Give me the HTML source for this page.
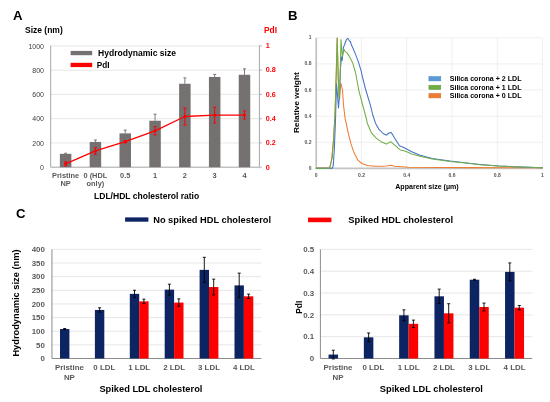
<!DOCTYPE html>
<html><head><meta charset="utf-8"><title>Figure</title>
<style>
html,body{margin:0;padding:0;background:#fff;}
body{width:550px;height:402px;overflow:hidden;}
svg{display:block;font-family:"Liberation Sans", sans-serif;will-change:transform;}
</style></head>
<body>
<svg width="550" height="402" viewBox="0 0 550 402">
<rect width="550" height="402" fill="#fff"/>
<text x="13.00" y="20.40" font-size="13.2" font-weight="bold" fill="#000" text-anchor="start">A</text>
<text x="25.00" y="32.50" font-size="8.5" font-weight="bold" fill="#000" text-anchor="start" textLength="37.7" lengthAdjust="spacingAndGlyphs">Size (nm)</text>
<text x="264.00" y="33.10" font-size="8.6" font-weight="bold" fill="#ff0000" text-anchor="start" textLength="13.0" lengthAdjust="spacingAndGlyphs">PdI</text>
<line x1="50.70" y1="142.94" x2="259.40" y2="142.94" stroke="#e0e0e0" stroke-width="0.8"/>
<line x1="50.70" y1="118.68" x2="259.40" y2="118.68" stroke="#e0e0e0" stroke-width="0.8"/>
<line x1="50.70" y1="94.42" x2="259.40" y2="94.42" stroke="#e0e0e0" stroke-width="0.8"/>
<line x1="50.70" y1="70.16" x2="259.40" y2="70.16" stroke="#e0e0e0" stroke-width="0.8"/>
<line x1="50.70" y1="45.90" x2="259.40" y2="45.90" stroke="#e0e0e0" stroke-width="0.8"/>
<line x1="50.70" y1="45.60" x2="50.70" y2="167.20" stroke="#a6a6a6" stroke-width="1"/>
<line x1="259.40" y1="45.60" x2="259.40" y2="167.20" stroke="#a6a6a6" stroke-width="1"/>
<line x1="50.70" y1="167.20" x2="259.40" y2="167.20" stroke="#a6a6a6" stroke-width="1"/>
<line x1="259.40" y1="167.20" x2="262.00" y2="167.20" stroke="#a6a6a6" stroke-width="0.8"/>
<text x="44.00" y="169.90" font-size="7.0" font-weight="normal" fill="#3c3c3c" text-anchor="end">0</text>
<text x="265.70" y="169.50" font-size="7.2" font-weight="bold" fill="#ff0000" text-anchor="start">0</text>
<line x1="259.40" y1="142.94" x2="262.00" y2="142.94" stroke="#a6a6a6" stroke-width="0.8"/>
<text x="44.00" y="145.64" font-size="7.0" font-weight="normal" fill="#3c3c3c" text-anchor="end">200</text>
<text x="265.70" y="145.24" font-size="7.2" font-weight="bold" fill="#ff0000" text-anchor="start">0.2</text>
<line x1="259.40" y1="118.68" x2="262.00" y2="118.68" stroke="#a6a6a6" stroke-width="0.8"/>
<text x="44.00" y="121.38" font-size="7.0" font-weight="normal" fill="#3c3c3c" text-anchor="end">400</text>
<text x="265.70" y="120.98" font-size="7.2" font-weight="bold" fill="#ff0000" text-anchor="start">0.4</text>
<line x1="259.40" y1="94.42" x2="262.00" y2="94.42" stroke="#a6a6a6" stroke-width="0.8"/>
<text x="44.00" y="97.12" font-size="7.0" font-weight="normal" fill="#3c3c3c" text-anchor="end">600</text>
<text x="265.70" y="96.72" font-size="7.2" font-weight="bold" fill="#ff0000" text-anchor="start">0.6</text>
<line x1="259.40" y1="70.16" x2="262.00" y2="70.16" stroke="#a6a6a6" stroke-width="0.8"/>
<text x="44.00" y="72.86" font-size="7.0" font-weight="normal" fill="#3c3c3c" text-anchor="end">800</text>
<text x="265.70" y="72.46" font-size="7.2" font-weight="bold" fill="#ff0000" text-anchor="start">0.8</text>
<line x1="259.40" y1="45.90" x2="262.00" y2="45.90" stroke="#a6a6a6" stroke-width="0.8"/>
<text x="44.00" y="48.60" font-size="7.0" font-weight="normal" fill="#3c3c3c" text-anchor="end">1000</text>
<text x="265.70" y="48.20" font-size="7.2" font-weight="bold" fill="#ff0000" text-anchor="start">1</text>
<rect x="59.86" y="153.86" width="11.50" height="13.34" fill="#767171"/>
<rect x="89.67" y="141.97" width="11.50" height="25.23" fill="#767171"/>
<rect x="119.49" y="133.36" width="11.50" height="33.84" fill="#767171"/>
<rect x="149.30" y="120.74" width="11.50" height="46.46" fill="#767171"/>
<rect x="179.11" y="83.75" width="11.50" height="83.45" fill="#767171"/>
<rect x="208.93" y="76.95" width="11.50" height="90.25" fill="#767171"/>
<rect x="238.74" y="74.77" width="11.50" height="92.43" fill="#767171"/>
<line x1="65.61" y1="153.25" x2="65.61" y2="153.86" stroke="#6d6969" stroke-width="0.9"/>
<line x1="64.11" y1="153.25" x2="67.11" y2="153.25" stroke="#6d6969" stroke-width="0.9"/>
<line x1="95.42" y1="140.03" x2="95.42" y2="141.97" stroke="#6d6969" stroke-width="0.9"/>
<line x1="93.92" y1="140.03" x2="96.92" y2="140.03" stroke="#6d6969" stroke-width="0.9"/>
<line x1="125.24" y1="130.08" x2="125.24" y2="133.36" stroke="#6d6969" stroke-width="0.9"/>
<line x1="123.74" y1="130.08" x2="126.74" y2="130.08" stroke="#6d6969" stroke-width="0.9"/>
<line x1="155.05" y1="114.19" x2="155.05" y2="120.74" stroke="#6d6969" stroke-width="0.9"/>
<line x1="153.55" y1="114.19" x2="156.55" y2="114.19" stroke="#6d6969" stroke-width="0.9"/>
<line x1="184.86" y1="77.92" x2="184.86" y2="83.75" stroke="#6d6969" stroke-width="0.9"/>
<line x1="183.36" y1="77.92" x2="186.36" y2="77.92" stroke="#6d6969" stroke-width="0.9"/>
<line x1="214.68" y1="74.41" x2="214.68" y2="76.95" stroke="#6d6969" stroke-width="0.9"/>
<line x1="213.18" y1="74.41" x2="216.18" y2="74.41" stroke="#6d6969" stroke-width="0.9"/>
<line x1="244.49" y1="68.83" x2="244.49" y2="74.77" stroke="#6d6969" stroke-width="0.9"/>
<line x1="242.99" y1="68.83" x2="245.99" y2="68.83" stroke="#6d6969" stroke-width="0.9"/>
<polyline points="65.61,163.80 95.42,150.95 125.24,141.73 155.05,130.81 184.86,116.50 214.68,115.04 244.49,115.04" fill="none" stroke="#ff0000" stroke-width="1.3" stroke-linejoin="round" stroke-linecap="round"/>
<line x1="65.61" y1="161.74" x2="65.61" y2="165.87" stroke="#ff0000" stroke-width="1.0"/>
<line x1="64.11" y1="161.74" x2="67.11" y2="161.74" stroke="#ff0000" stroke-width="1.0"/>
<line x1="64.11" y1="165.87" x2="67.11" y2="165.87" stroke="#ff0000" stroke-width="1.0"/>
<circle cx="65.61" cy="163.80" r="1.5" fill="#ff0000"/>
<line x1="95.42" y1="147.55" x2="95.42" y2="154.34" stroke="#ff0000" stroke-width="1.0"/>
<line x1="93.92" y1="147.55" x2="96.92" y2="147.55" stroke="#ff0000" stroke-width="1.0"/>
<line x1="93.92" y1="154.34" x2="96.92" y2="154.34" stroke="#ff0000" stroke-width="1.0"/>
<circle cx="95.42" cy="150.95" r="1.5" fill="#ff0000"/>
<line x1="125.24" y1="140.51" x2="125.24" y2="142.94" stroke="#ff0000" stroke-width="1.0"/>
<line x1="123.74" y1="140.51" x2="126.74" y2="140.51" stroke="#ff0000" stroke-width="1.0"/>
<line x1="123.74" y1="142.94" x2="126.74" y2="142.94" stroke="#ff0000" stroke-width="1.0"/>
<circle cx="125.24" cy="141.73" r="1.5" fill="#ff0000"/>
<line x1="155.05" y1="126.69" x2="155.05" y2="134.93" stroke="#ff0000" stroke-width="1.0"/>
<line x1="153.55" y1="126.69" x2="156.55" y2="126.69" stroke="#ff0000" stroke-width="1.0"/>
<line x1="153.55" y1="134.93" x2="156.55" y2="134.93" stroke="#ff0000" stroke-width="1.0"/>
<circle cx="155.05" cy="130.81" r="1.5" fill="#ff0000"/>
<line x1="184.86" y1="108.01" x2="184.86" y2="124.99" stroke="#ff0000" stroke-width="1.0"/>
<line x1="183.36" y1="108.01" x2="186.36" y2="108.01" stroke="#ff0000" stroke-width="1.0"/>
<line x1="183.36" y1="124.99" x2="186.36" y2="124.99" stroke="#ff0000" stroke-width="1.0"/>
<circle cx="184.86" cy="116.50" r="1.5" fill="#ff0000"/>
<line x1="214.68" y1="107.16" x2="214.68" y2="122.93" stroke="#ff0000" stroke-width="1.0"/>
<line x1="213.18" y1="107.16" x2="216.18" y2="107.16" stroke="#ff0000" stroke-width="1.0"/>
<line x1="213.18" y1="122.93" x2="216.18" y2="122.93" stroke="#ff0000" stroke-width="1.0"/>
<circle cx="214.68" cy="115.04" r="1.5" fill="#ff0000"/>
<line x1="244.49" y1="111.04" x2="244.49" y2="119.04" stroke="#ff0000" stroke-width="1.0"/>
<line x1="242.99" y1="111.04" x2="245.99" y2="111.04" stroke="#ff0000" stroke-width="1.0"/>
<line x1="242.99" y1="119.04" x2="245.99" y2="119.04" stroke="#ff0000" stroke-width="1.0"/>
<circle cx="244.49" cy="115.04" r="1.5" fill="#ff0000"/>
<rect x="70.60" y="50.90" width="21.60" height="4.30" fill="#767171"/>
<rect x="70.60" y="62.80" width="21.60" height="4.30" fill="#ff0000"/>
<text x="98.00" y="55.60" font-size="8.2" font-weight="bold" fill="#000" text-anchor="start" textLength="78.0" lengthAdjust="spacingAndGlyphs">Hydrodynamic size</text>
<text x="96.80" y="67.50" font-size="8.2" font-weight="bold" fill="#000" text-anchor="start">PdI</text>
<text x="65.61" y="178.40" font-size="7.4" font-weight="bold" fill="#595959" text-anchor="middle">Pristine</text>
<text x="65.61" y="186.40" font-size="7.4" font-weight="bold" fill="#595959" text-anchor="middle">NP</text>
<text x="95.42" y="178.40" font-size="7.4" font-weight="bold" fill="#595959" text-anchor="middle">0 (HDL</text>
<text x="95.42" y="186.40" font-size="7.4" font-weight="bold" fill="#595959" text-anchor="middle">only)</text>
<text x="125.24" y="178.40" font-size="7.4" font-weight="bold" fill="#595959" text-anchor="middle">0.5</text>
<text x="155.05" y="178.40" font-size="7.4" font-weight="bold" fill="#595959" text-anchor="middle">1</text>
<text x="184.86" y="178.40" font-size="7.4" font-weight="bold" fill="#595959" text-anchor="middle">2</text>
<text x="214.68" y="178.40" font-size="7.4" font-weight="bold" fill="#595959" text-anchor="middle">3</text>
<text x="244.49" y="178.40" font-size="7.4" font-weight="bold" fill="#595959" text-anchor="middle">4</text>
<text x="94.00" y="198.70" font-size="8.5" font-weight="bold" fill="#000" text-anchor="start" textLength="105.2" lengthAdjust="spacingAndGlyphs">LDL/HDL cholesterol ratio</text>
<text x="287.90" y="20.40" font-size="13.2" font-weight="bold" fill="#000" text-anchor="start">B</text>
<line x1="361.46" y1="37.80" x2="361.46" y2="168.40" stroke="#ebebeb" stroke-width="0.8"/>
<line x1="316.20" y1="142.28" x2="542.50" y2="142.28" stroke="#ebebeb" stroke-width="0.8"/>
<line x1="406.72" y1="37.80" x2="406.72" y2="168.40" stroke="#ebebeb" stroke-width="0.8"/>
<line x1="316.20" y1="116.16" x2="542.50" y2="116.16" stroke="#ebebeb" stroke-width="0.8"/>
<line x1="451.98" y1="37.80" x2="451.98" y2="168.40" stroke="#ebebeb" stroke-width="0.8"/>
<line x1="316.20" y1="90.04" x2="542.50" y2="90.04" stroke="#ebebeb" stroke-width="0.8"/>
<line x1="497.24" y1="37.80" x2="497.24" y2="168.40" stroke="#ebebeb" stroke-width="0.8"/>
<line x1="316.20" y1="63.92" x2="542.50" y2="63.92" stroke="#ebebeb" stroke-width="0.8"/>
<line x1="542.50" y1="37.80" x2="542.50" y2="168.40" stroke="#ebebeb" stroke-width="0.8"/>
<line x1="316.20" y1="37.80" x2="542.50" y2="37.80" stroke="#ebebeb" stroke-width="0.8"/>
<text x="311.50" y="169.90" font-size="5.0" font-weight="bold" fill="#555555" text-anchor="end">0</text>
<text x="316.20" y="176.60" font-size="5.0" font-weight="bold" fill="#555555" text-anchor="middle">0</text>
<text x="311.50" y="143.78" font-size="5.0" font-weight="bold" fill="#555555" text-anchor="end">0.2</text>
<text x="361.46" y="176.60" font-size="5.0" font-weight="bold" fill="#555555" text-anchor="middle">0.2</text>
<text x="311.50" y="117.66" font-size="5.0" font-weight="bold" fill="#555555" text-anchor="end">0.4</text>
<text x="406.72" y="176.60" font-size="5.0" font-weight="bold" fill="#555555" text-anchor="middle">0.4</text>
<text x="311.50" y="91.54" font-size="5.0" font-weight="bold" fill="#555555" text-anchor="end">0.6</text>
<text x="451.98" y="176.60" font-size="5.0" font-weight="bold" fill="#555555" text-anchor="middle">0.6</text>
<text x="311.50" y="65.42" font-size="5.0" font-weight="bold" fill="#555555" text-anchor="end">0.8</text>
<text x="497.24" y="176.60" font-size="5.0" font-weight="bold" fill="#555555" text-anchor="middle">0.8</text>
<text x="311.50" y="39.30" font-size="5.0" font-weight="bold" fill="#555555" text-anchor="end">1</text>
<text x="542.50" y="176.60" font-size="5.0" font-weight="bold" fill="#555555" text-anchor="middle">1</text>
<line x1="316.20" y1="37.80" x2="316.20" y2="168.40" stroke="#c4c4c4" stroke-width="1.8"/>
<line x1="316.20" y1="168.40" x2="542.50" y2="168.40" stroke="#c4c4c4" stroke-width="1.6"/>
<polyline points="316.20,168.00 329.50,168.00 330.50,165.00 331.50,160.00 333.50,140.00 335.00,115.00 336.20,75.00 337.15,38.50 338.30,80.00 339.00,96.00 339.60,99.00 340.30,88.00 341.00,83.50 342.50,90.00 343.50,105.00 345.10,118.40 346.20,123.20 348.20,132.80 350.90,143.70 353.70,151.90 357.80,160.10 361.90,163.50 367.30,165.60 375.50,166.30 382.00,166.30 386.50,165.90 390.60,165.30 394.70,166.30 408.40,167.20 470.00,167.60 542.50,167.80" fill="none" stroke="#ed7d31" stroke-width="1.05" stroke-linejoin="round" stroke-linecap="round"/>
<polyline points="316.20,168.20 332.50,168.20 333.30,165.00 334.30,150.00 335.50,120.00 336.50,83.50 337.50,95.00 338.50,108.00 339.50,95.00 340.50,68.00 341.50,56.90 342.20,60.50 343.00,52.00 343.50,47.00 344.50,45.00 345.50,42.00 346.40,39.50 347.40,38.50 348.40,39.00 349.40,41.00 350.40,41.50 351.40,45.00 352.90,48.00 354.90,52.90 356.90,57.90 358.40,61.90 359.90,66.80 361.40,71.80 362.30,76.40 365.50,89.00 370.50,105.60 372.80,115.00 375.50,123.20 379.00,129.40 383.10,133.50 386.50,135.20 389.00,133.00 391.30,132.50 394.70,138.20 399.50,145.80 404.30,147.80 411.80,151.80 420.00,155.20 432.30,158.60 450.00,161.10 466.40,163.00 480.00,164.40 499.00,166.10 542.50,167.80" fill="none" stroke="#4472c4" stroke-width="1.05" stroke-linejoin="round" stroke-linecap="round"/>
<polyline points="316.20,168.20 329.50,168.20 330.50,165.00 331.50,160.00 332.30,158.00 333.50,140.00 335.00,115.00 336.20,75.00 337.20,37.80 338.30,80.00 339.20,98.00 340.00,80.00 341.00,39.60 342.30,56.00 344.00,49.40 345.00,51.40 347.00,52.90 349.00,55.90 351.00,59.40 353.00,63.80 354.40,68.80 355.40,72.00 359.10,91.60 366.70,120.00 367.30,123.20 371.40,132.80 376.20,138.20 381.00,141.70 386.50,144.10 390.60,141.70 394.70,145.10 400.20,149.90 405.00,151.10 411.80,153.90 420.00,156.20 432.30,159.00 450.00,161.40 466.40,163.10 480.00,164.80 499.00,166.10 542.50,167.80" fill="none" stroke="#70ad47" stroke-width="1.05" stroke-linejoin="round" stroke-linecap="round"/>
<text transform="translate(299.0,102.6) rotate(-90)" x="0" y="0" font-size="7.2" font-weight="bold" fill="#000" text-anchor="middle" textLength="60.9" lengthAdjust="spacingAndGlyphs">Relative weight</text>
<text x="395.20" y="188.80" font-size="7.1" font-weight="bold" fill="#000" text-anchor="start" textLength="63.5" lengthAdjust="spacingAndGlyphs">Apparent size (µm)</text>
<rect x="426.50" y="74.50" width="95.50" height="25.00" fill="#ffffff"/>
<rect x="428.9" y="76.5" width="11.9" height="4.4" fill="#5b9bd5" stroke="#4a89c8" stroke-width="0.5"/>
<text x="449.70" y="81.10" font-size="7.3" font-weight="bold" fill="#000" text-anchor="start" textLength="71.8" lengthAdjust="spacingAndGlyphs">Silica corona + 2 LDL</text>
<rect x="428.9" y="85.2" width="11.9" height="4.4" fill="#70ad47" stroke="#5f9a3a" stroke-width="0.5"/>
<text x="449.70" y="89.50" font-size="7.3" font-weight="bold" fill="#000" text-anchor="start" textLength="71.8" lengthAdjust="spacingAndGlyphs">Silica corona + 1 LDL</text>
<rect x="428.9" y="93.5" width="11.9" height="4.4" fill="#ed7d31" stroke="#d96d25" stroke-width="0.5"/>
<text x="449.70" y="97.80" font-size="7.3" font-weight="bold" fill="#000" text-anchor="start" textLength="71.8" lengthAdjust="spacingAndGlyphs">Silica corona + 0 LDL</text>
<text x="16.00" y="217.60" font-size="13.2" font-weight="bold" fill="#000" text-anchor="start">C</text>
<rect x="125.10" y="217.40" width="23.30" height="4.30" fill="#0d2463"/>
<text x="153.20" y="222.60" font-size="9.3" font-weight="bold" fill="#000" text-anchor="start" textLength="117.8" lengthAdjust="spacingAndGlyphs">No spiked HDL cholesterol</text>
<rect x="308.00" y="217.60" width="23.40" height="4.60" fill="#ff0000"/>
<text x="348.30" y="223.20" font-size="9.35" font-weight="bold" fill="#000" text-anchor="start" textLength="104.7" lengthAdjust="spacingAndGlyphs">Spiked HDL cholesterol</text>
<line x1="51.95" y1="344.86" x2="261.35" y2="344.86" stroke="#e0e0e0" stroke-width="0.8"/>
<line x1="51.95" y1="331.23" x2="261.35" y2="331.23" stroke="#e0e0e0" stroke-width="0.8"/>
<line x1="51.95" y1="317.59" x2="261.35" y2="317.59" stroke="#e0e0e0" stroke-width="0.8"/>
<line x1="51.95" y1="303.95" x2="261.35" y2="303.95" stroke="#e0e0e0" stroke-width="0.8"/>
<line x1="51.95" y1="290.31" x2="261.35" y2="290.31" stroke="#e0e0e0" stroke-width="0.8"/>
<line x1="51.95" y1="276.68" x2="261.35" y2="276.68" stroke="#e0e0e0" stroke-width="0.8"/>
<line x1="51.95" y1="263.04" x2="261.35" y2="263.04" stroke="#e0e0e0" stroke-width="0.8"/>
<line x1="51.95" y1="249.40" x2="261.35" y2="249.40" stroke="#e0e0e0" stroke-width="0.8"/>
<line x1="51.95" y1="249.40" x2="51.95" y2="358.50" stroke="#8c8c8c" stroke-width="1"/>
<line x1="51.95" y1="358.50" x2="261.35" y2="358.50" stroke="#8c8c8c" stroke-width="1"/>
<text x="44.80" y="361.30" font-size="7.9" font-weight="bold" fill="#595959" text-anchor="end">0</text>
<text x="44.80" y="347.66" font-size="7.9" font-weight="bold" fill="#595959" text-anchor="end">50</text>
<text x="44.80" y="334.03" font-size="7.9" font-weight="bold" fill="#595959" text-anchor="end">100</text>
<text x="44.80" y="320.39" font-size="7.9" font-weight="bold" fill="#595959" text-anchor="end">150</text>
<text x="44.80" y="306.75" font-size="7.9" font-weight="bold" fill="#595959" text-anchor="end">200</text>
<text x="44.80" y="293.11" font-size="7.9" font-weight="bold" fill="#595959" text-anchor="end">250</text>
<text x="44.80" y="279.48" font-size="7.9" font-weight="bold" fill="#595959" text-anchor="end">300</text>
<text x="44.80" y="265.84" font-size="7.9" font-weight="bold" fill="#595959" text-anchor="end">350</text>
<text x="44.80" y="252.20" font-size="7.9" font-weight="bold" fill="#595959" text-anchor="end">400</text>
<rect x="60.00" y="329.04" width="9.40" height="29.46" fill="#0d2463"/>
<rect x="94.90" y="309.95" width="9.40" height="48.55" fill="#0d2463"/>
<rect x="129.80" y="293.86" width="9.40" height="64.64" fill="#0d2463"/>
<rect x="164.70" y="289.63" width="9.40" height="68.87" fill="#0d2463"/>
<rect x="199.60" y="269.86" width="9.40" height="88.64" fill="#0d2463"/>
<rect x="234.50" y="285.40" width="9.40" height="73.10" fill="#0d2463"/>
<rect x="139.20" y="301.36" width="9.40" height="57.14" fill="#ff0000"/>
<rect x="174.10" y="302.59" width="9.40" height="55.91" fill="#ff0000"/>
<rect x="209.00" y="287.04" width="9.40" height="71.46" fill="#ff0000"/>
<rect x="243.90" y="296.31" width="9.40" height="62.19" fill="#ff0000"/>
<line x1="64.70" y1="328.50" x2="64.70" y2="329.59" stroke="#000" stroke-width="0.9"/>
<line x1="63.20" y1="328.50" x2="66.20" y2="328.50" stroke="#000" stroke-width="0.9"/>
<line x1="63.20" y1="329.59" x2="66.20" y2="329.59" stroke="#000" stroke-width="0.9"/>
<line x1="99.60" y1="307.77" x2="99.60" y2="312.13" stroke="#000" stroke-width="0.9"/>
<line x1="98.10" y1="307.77" x2="101.10" y2="307.77" stroke="#000" stroke-width="0.9"/>
<line x1="98.10" y1="312.13" x2="101.10" y2="312.13" stroke="#000" stroke-width="0.9"/>
<line x1="134.50" y1="290.31" x2="134.50" y2="297.40" stroke="#000" stroke-width="0.9"/>
<line x1="133.00" y1="290.31" x2="136.00" y2="290.31" stroke="#000" stroke-width="0.9"/>
<line x1="133.00" y1="297.40" x2="136.00" y2="297.40" stroke="#000" stroke-width="0.9"/>
<line x1="169.40" y1="284.18" x2="169.40" y2="295.09" stroke="#000" stroke-width="0.9"/>
<line x1="167.90" y1="284.18" x2="170.90" y2="284.18" stroke="#000" stroke-width="0.9"/>
<line x1="167.90" y1="295.09" x2="170.90" y2="295.09" stroke="#000" stroke-width="0.9"/>
<line x1="204.30" y1="257.31" x2="204.30" y2="282.40" stroke="#000" stroke-width="0.9"/>
<line x1="202.80" y1="257.31" x2="205.80" y2="257.31" stroke="#000" stroke-width="0.9"/>
<line x1="202.80" y1="282.40" x2="205.80" y2="282.40" stroke="#000" stroke-width="0.9"/>
<line x1="239.20" y1="273.13" x2="239.20" y2="297.68" stroke="#000" stroke-width="0.9"/>
<line x1="237.70" y1="273.13" x2="240.70" y2="273.13" stroke="#000" stroke-width="0.9"/>
<line x1="237.70" y1="297.68" x2="240.70" y2="297.68" stroke="#000" stroke-width="0.9"/>
<line x1="143.90" y1="299.18" x2="143.90" y2="303.54" stroke="#000" stroke-width="0.9"/>
<line x1="142.40" y1="299.18" x2="145.40" y2="299.18" stroke="#000" stroke-width="0.9"/>
<line x1="142.40" y1="303.54" x2="145.40" y2="303.54" stroke="#000" stroke-width="0.9"/>
<line x1="178.80" y1="298.90" x2="178.80" y2="306.27" stroke="#000" stroke-width="0.9"/>
<line x1="177.30" y1="298.90" x2="180.30" y2="298.90" stroke="#000" stroke-width="0.9"/>
<line x1="177.30" y1="306.27" x2="180.30" y2="306.27" stroke="#000" stroke-width="0.9"/>
<line x1="213.70" y1="279.13" x2="213.70" y2="294.95" stroke="#000" stroke-width="0.9"/>
<line x1="212.20" y1="279.13" x2="215.20" y2="279.13" stroke="#000" stroke-width="0.9"/>
<line x1="212.20" y1="294.95" x2="215.20" y2="294.95" stroke="#000" stroke-width="0.9"/>
<line x1="248.60" y1="294.13" x2="248.60" y2="298.50" stroke="#000" stroke-width="0.9"/>
<line x1="247.10" y1="294.13" x2="250.10" y2="294.13" stroke="#000" stroke-width="0.9"/>
<line x1="247.10" y1="298.50" x2="250.10" y2="298.50" stroke="#000" stroke-width="0.9"/>
<text x="69.40" y="370.30" font-size="7.9" font-weight="bold" fill="#595959" text-anchor="middle">Pristine</text>
<text x="69.40" y="379.50" font-size="7.9" font-weight="bold" fill="#595959" text-anchor="middle">NP</text>
<text x="104.30" y="370.30" font-size="7.9" font-weight="bold" fill="#595959" text-anchor="middle">0 LDL</text>
<text x="139.20" y="370.30" font-size="7.9" font-weight="bold" fill="#595959" text-anchor="middle">1 LDL</text>
<text x="174.10" y="370.30" font-size="7.9" font-weight="bold" fill="#595959" text-anchor="middle">2 LDL</text>
<text x="209.00" y="370.30" font-size="7.9" font-weight="bold" fill="#595959" text-anchor="middle">3 LDL</text>
<text x="243.90" y="370.30" font-size="7.9" font-weight="bold" fill="#595959" text-anchor="middle">4 LDL</text>
<text transform="translate(18.8,303.05) rotate(-90)" x="0" y="0" font-size="9.3" font-weight="bold" fill="#000" text-anchor="middle" textLength="107.1" lengthAdjust="spacingAndGlyphs">Hydrodynamic size (nm)</text>
<text x="99.40" y="392.20" font-size="9.3" font-weight="bold" fill="#000" text-anchor="start" textLength="103.0" lengthAdjust="spacingAndGlyphs">Spiked LDL cholesterol</text>
<line x1="320.40" y1="336.68" x2="532.20" y2="336.68" stroke="#e0e0e0" stroke-width="0.8"/>
<line x1="320.40" y1="314.86" x2="532.20" y2="314.86" stroke="#e0e0e0" stroke-width="0.8"/>
<line x1="320.40" y1="293.04" x2="532.20" y2="293.04" stroke="#e0e0e0" stroke-width="0.8"/>
<line x1="320.40" y1="271.22" x2="532.20" y2="271.22" stroke="#e0e0e0" stroke-width="0.8"/>
<line x1="320.40" y1="249.40" x2="532.20" y2="249.40" stroke="#e0e0e0" stroke-width="0.8"/>
<line x1="320.40" y1="249.40" x2="320.40" y2="358.50" stroke="#8c8c8c" stroke-width="1"/>
<line x1="320.40" y1="358.50" x2="532.20" y2="358.50" stroke="#8c8c8c" stroke-width="1"/>
<text x="314.20" y="361.30" font-size="7.9" font-weight="bold" fill="#595959" text-anchor="end">0</text>
<text x="314.20" y="339.48" font-size="7.9" font-weight="bold" fill="#595959" text-anchor="end">0.1</text>
<text x="314.20" y="317.66" font-size="7.9" font-weight="bold" fill="#595959" text-anchor="end">0.2</text>
<text x="314.20" y="295.84" font-size="7.9" font-weight="bold" fill="#595959" text-anchor="end">0.3</text>
<text x="314.20" y="274.02" font-size="7.9" font-weight="bold" fill="#595959" text-anchor="end">0.4</text>
<text x="314.20" y="252.20" font-size="7.9" font-weight="bold" fill="#595959" text-anchor="end">0.5</text>
<rect x="328.55" y="354.57" width="9.50" height="3.93" fill="#0d2463"/>
<rect x="363.85" y="337.33" width="9.50" height="21.17" fill="#0d2463"/>
<rect x="399.15" y="315.30" width="9.50" height="43.20" fill="#0d2463"/>
<rect x="434.45" y="296.31" width="9.50" height="62.19" fill="#0d2463"/>
<rect x="469.75" y="279.73" width="9.50" height="78.77" fill="#0d2463"/>
<rect x="505.05" y="271.87" width="9.50" height="86.63" fill="#0d2463"/>
<rect x="408.65" y="323.81" width="9.50" height="34.69" fill="#ff0000"/>
<rect x="443.95" y="313.33" width="9.50" height="45.17" fill="#ff0000"/>
<rect x="479.25" y="307.00" width="9.50" height="51.50" fill="#ff0000"/>
<rect x="514.55" y="307.66" width="9.50" height="50.84" fill="#ff0000"/>
<line x1="333.30" y1="350.21" x2="333.30" y2="358.94" stroke="#000" stroke-width="0.9"/>
<line x1="331.80" y1="350.21" x2="334.80" y2="350.21" stroke="#000" stroke-width="0.9"/>
<line x1="331.80" y1="358.94" x2="334.80" y2="358.94" stroke="#000" stroke-width="0.9"/>
<line x1="368.60" y1="332.97" x2="368.60" y2="341.70" stroke="#000" stroke-width="0.9"/>
<line x1="367.10" y1="332.97" x2="370.10" y2="332.97" stroke="#000" stroke-width="0.9"/>
<line x1="367.10" y1="341.70" x2="370.10" y2="341.70" stroke="#000" stroke-width="0.9"/>
<line x1="403.90" y1="309.84" x2="403.90" y2="320.75" stroke="#000" stroke-width="0.9"/>
<line x1="402.40" y1="309.84" x2="405.40" y2="309.84" stroke="#000" stroke-width="0.9"/>
<line x1="402.40" y1="320.75" x2="405.40" y2="320.75" stroke="#000" stroke-width="0.9"/>
<line x1="439.20" y1="289.11" x2="439.20" y2="303.51" stroke="#000" stroke-width="0.9"/>
<line x1="437.70" y1="289.11" x2="440.70" y2="289.11" stroke="#000" stroke-width="0.9"/>
<line x1="437.70" y1="303.51" x2="440.70" y2="303.51" stroke="#000" stroke-width="0.9"/>
<line x1="474.50" y1="279.29" x2="474.50" y2="280.17" stroke="#000" stroke-width="0.9"/>
<line x1="473.00" y1="279.29" x2="476.00" y2="279.29" stroke="#000" stroke-width="0.9"/>
<line x1="473.00" y1="280.17" x2="476.00" y2="280.17" stroke="#000" stroke-width="0.9"/>
<line x1="509.80" y1="262.93" x2="509.80" y2="280.82" stroke="#000" stroke-width="0.9"/>
<line x1="508.30" y1="262.93" x2="511.30" y2="262.93" stroke="#000" stroke-width="0.9"/>
<line x1="508.30" y1="280.82" x2="511.30" y2="280.82" stroke="#000" stroke-width="0.9"/>
<line x1="413.40" y1="320.10" x2="413.40" y2="327.52" stroke="#000" stroke-width="0.9"/>
<line x1="411.90" y1="320.10" x2="414.90" y2="320.10" stroke="#000" stroke-width="0.9"/>
<line x1="411.90" y1="327.52" x2="414.90" y2="327.52" stroke="#000" stroke-width="0.9"/>
<line x1="448.70" y1="303.73" x2="448.70" y2="322.93" stroke="#000" stroke-width="0.9"/>
<line x1="447.20" y1="303.73" x2="450.20" y2="303.73" stroke="#000" stroke-width="0.9"/>
<line x1="447.20" y1="322.93" x2="450.20" y2="322.93" stroke="#000" stroke-width="0.9"/>
<line x1="484.00" y1="303.08" x2="484.00" y2="310.93" stroke="#000" stroke-width="0.9"/>
<line x1="482.50" y1="303.08" x2="485.50" y2="303.08" stroke="#000" stroke-width="0.9"/>
<line x1="482.50" y1="310.93" x2="485.50" y2="310.93" stroke="#000" stroke-width="0.9"/>
<line x1="519.30" y1="305.48" x2="519.30" y2="309.84" stroke="#000" stroke-width="0.9"/>
<line x1="517.80" y1="305.48" x2="520.80" y2="305.48" stroke="#000" stroke-width="0.9"/>
<line x1="517.80" y1="309.84" x2="520.80" y2="309.84" stroke="#000" stroke-width="0.9"/>
<text x="338.05" y="370.30" font-size="7.9" font-weight="bold" fill="#595959" text-anchor="middle">Pristine</text>
<text x="338.05" y="379.50" font-size="7.9" font-weight="bold" fill="#595959" text-anchor="middle">NP</text>
<text x="373.35" y="370.30" font-size="7.9" font-weight="bold" fill="#595959" text-anchor="middle">0 LDL</text>
<text x="408.65" y="370.30" font-size="7.9" font-weight="bold" fill="#595959" text-anchor="middle">1 LDL</text>
<text x="443.95" y="370.30" font-size="7.9" font-weight="bold" fill="#595959" text-anchor="middle">2 LDL</text>
<text x="479.25" y="370.30" font-size="7.9" font-weight="bold" fill="#595959" text-anchor="middle">3 LDL</text>
<text x="514.55" y="370.30" font-size="7.9" font-weight="bold" fill="#595959" text-anchor="middle">4 LDL</text>
<text transform="translate(301.5,307.2) rotate(-90)" x="0" y="0" font-size="8.4" font-weight="bold" fill="#000" text-anchor="middle">PdI</text>
<text x="379.80" y="392.20" font-size="9.3" font-weight="bold" fill="#000" text-anchor="start" textLength="103.1" lengthAdjust="spacingAndGlyphs">Spiked LDL cholesterol</text>
</svg>
</body></html>
